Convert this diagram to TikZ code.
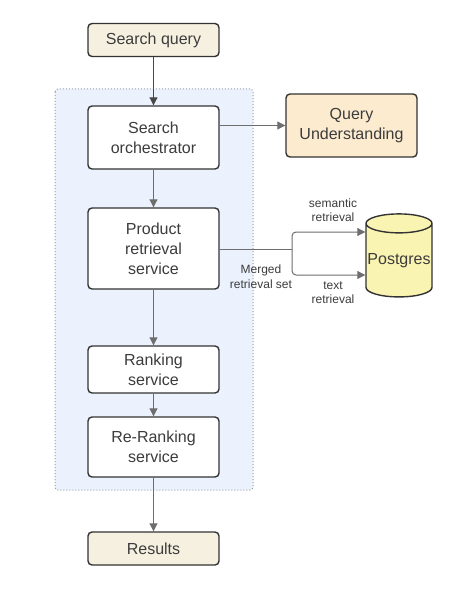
\documentclass[tikz,border=0pt]{standalone}
\usepackage{fontspec}
\setmainfont{Liberation Sans}
\usetikzlibrary{arrows.meta,shapes.geometric}
\definecolor{boxline}{HTML}{333333}
\definecolor{arrowgray}{HTML}{6E6E6E}
\definecolor{termfill}{HTML}{F5F0E0}
\definecolor{qufill}{HTML}{FCEBCF}
\definecolor{dbfill}{HTML}{FAF4B3}
\definecolor{groupfill}{HTML}{EBF2FD}
\definecolor{groupline}{HTML}{9A9EA6}
\definecolor{txtgray}{HTML}{3C3C3C}
\begin{document}
\begin{tikzpicture}[x=1pt,y=-1pt,
  box/.style={draw=boxline,line width=1.4pt,rounded corners=4pt,fill=white,
    minimum width=131pt,align=center,text=txtgray,
    font=\fontsize{16}{20}\selectfont},
  term/.style={box,fill=termfill},
  flow/.style={draw=arrowgray,line width=1pt,-{Triangle[width=8pt,length=8pt]}},
  lbl/.style={align=center,text=txtgray,font=\fontsize{12}{14.5}\selectfont}]
\useasboundingbox (0,0) rectangle (474,599);
\fill[white] (0,0) rectangle (474,599);
% grouping frame
\draw[groupline,dotted,line width=1pt,fill=groupfill,rounded corners=3pt]
  (55,89) rectangle (253,490);
% main column
\node[term,minimum height=33pt] (query) at (153.5,40) {Search query};
\node[box,minimum height=63pt] (orch) at (153.5,137.5) {Search\\orchestrator};
\node[box,minimum height=81pt] (prod) at (153.5,248.5) {Product\\retrieval\\service};
\node[box,minimum height=47pt] (rank) at (153.5,369.5) {Ranking\\service};
\node[box,minimum height=60pt] (rerank) at (153.5,447) {Re-Ranking\\service};
\node[term,minimum height=33pt] (res) at (153.5,548.5) {Results};
% side nodes
\node[box,fill=qufill,minimum height=63pt] (qu) at (351.5,125.5) {Query\\Understanding};
\node[cylinder,shape border rotate=90,aspect=0.3,draw=boxline,line width=1.4pt,
  fill=dbfill,minimum width=66pt,minimum height=83pt,text=txtgray,
  font=\fontsize{16}{20}\selectfont,inner sep=0pt] (pg) at (399,260.5) {Postgres};
\coordinate (split) at (292,249);
% connectors
\draw[flow,draw=boxline!90] (query) -- (orch);
\draw[flow] (orch) -- (prod);
\draw[flow] (prod) -- (rank);
\draw[flow] (rank) -- (rerank);
\draw[flow] (rerank) -- (res);
\draw[flow] (qu.west -| orch.east) -- (qu.west);
\draw[draw=arrowgray,line width=1pt] (prod.east |- split) -- (split);
\draw[flow,rounded corners=4pt] (split) |- (pg.west |- 0,232);
\draw[flow,rounded corners=4pt] (split) |- (pg.west |- 0,275);
% labels
\node[lbl] (sem) at (333,210) {semantic\\retrieval};
\node[lbl] (merged) at (261,276.5) {Merged\\retrieval set};
\node[lbl] (txt) at (333,292.5) {text\\retrieval};
\end{tikzpicture}
\end{document}
